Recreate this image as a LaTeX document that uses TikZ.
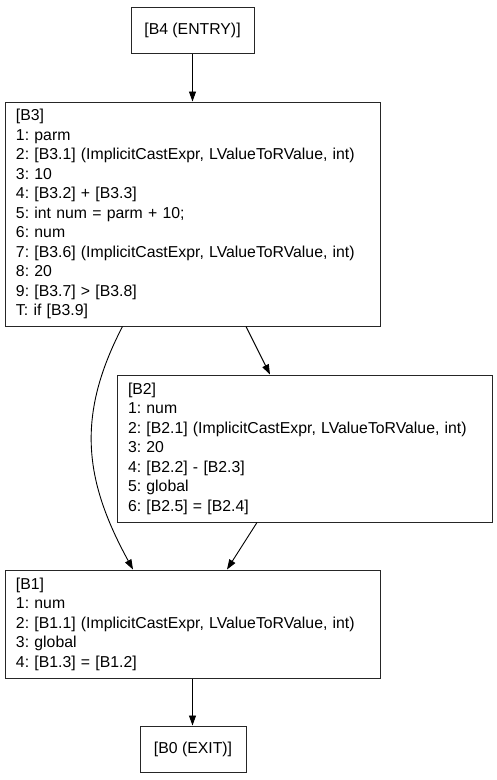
\documentclass[tikz,border=0pt]{standalone}
\usepackage{fontspec}
\setmainfont{Liberation Sans}
\usetikzlibrary{arrows.meta}
\frenchspacing
\tikzset{
  blk/.style={draw=black!85, line width=1pt, rectangle, inner xsep=11pt, inner ysep=0pt,
    align=left, font=\fontsize{15.8}{19.5}\selectfont},
  small/.style={draw=black!85, line width=1pt, rectangle, inner sep=0pt,
    align=center, font=\fontsize{15.8}{19.5}\selectfont},
  edge/.style={draw=black, line width=0.9pt, -{Triangle[length=10pt,width=7pt]}}
}
\begin{document}
\begin{tikzpicture}[x=1pt,y=-1pt]
\useasboundingbox (0,0) rectangle (497,780);
\node[small, minimum width=123pt, minimum height=46pt] (B4) at (192.5,30) {[B4 (ENTRY)]};
\node[blk, minimum width=375pt, minimum height=224pt, text width=353pt] (B3) at (192.5,214) {[B3]\\
1: parm\\
2: [B3.1] (ImplicitCastExpr, LValueToRValue, int)\\
3: 10\\
4: [B3.2] + [B3.3]\\
5: int num = parm + 10;\\
6: num\\
7: [B3.6] (ImplicitCastExpr, LValueToRValue, int)\\
8: 20\\
9: [B3.7] > [B3.8]\\
T: if [B3.9]};
\node[blk, minimum width=375pt, minimum height=147pt, text width=353pt] (B2) at (304.5,448.5) {[B2]\\
1: num\\
2: [B2.1] (ImplicitCastExpr, LValueToRValue, int)\\
3: 20\\
4: [B2.2] - [B2.3]\\
5: global\\
6: [B2.5] = [B2.4]};
\node[blk, minimum width=375pt, minimum height=108pt, text width=353pt] (B1) at (192.5,624) {[B1]\\
1: num\\
2: [B1.1] (ImplicitCastExpr, LValueToRValue, int)\\
3: global\\
4: [B1.3] = [B1.2]};
\node[small, minimum width=106pt, minimum height=46pt] (B0) at (193,749) {[B0 (EXIT)]};
\draw[edge] (B4.south) -- (B3.north);
\draw[edge] ([xshift=53.5pt]B3.south) -- ([xshift=-34.5pt]B2.north);
\draw[edge] ([xshift=-70pt]B3.south) .. controls (76,416) and (84,480) .. ([xshift=-59.5pt]B1.north);
\draw[edge] ([xshift=-47.5pt]B2.south) -- ([xshift=34.5pt]B1.north);
\draw[edge] (B1.south) -- (B1.south |- B0.north);
\end{tikzpicture}
\end{document}
